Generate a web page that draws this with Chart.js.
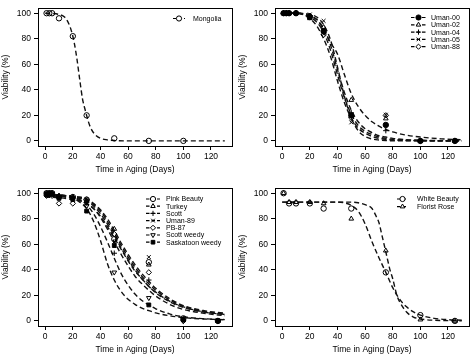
<!DOCTYPE html>
<html>
<head>
<meta charset="utf-8">
<script src="https://cdn.jsdelivr.net/npm/chart.js@4.4.1/dist/chart.umd.min.js"></script>
<style>
  html, body { margin: 0; padding: 0; background: #fff; }
  #wrap { position: relative; width: 474px; height: 358px; overflow: hidden; background: #fff; }
  .panel { position: absolute; width: 237px; height: 179px; }
</style>
</head>
<body>
<div id="wrap">
  <div class="panel" style="left:0;top:0"><canvas id="c1" width="237" height="179"></canvas></div>
  <div class="panel" style="left:237px;top:0"><canvas id="c2" width="237" height="179"></canvas></div>
  <div class="panel" style="left:0;top:180px"><canvas id="c3" width="237" height="179"></canvas></div>
  <div class="panel" style="left:237px;top:180px"><canvas id="c4" width="237" height="179"></canvas></div>
</div>
<script>
// axis ticks (all panels)
const xTicks = [0, 20, 40, 60, 80, 100, 120];
const yTicks = [0, 20, 40, 60, 80, 100];

// ---- panel 1 : Mongolia ----
const mongDays = [1, 3, 5, 10, 20, 30, 50, 75, 100];
const mongolia = [100, 100, 100, 96, 82, 20, 2, 0, 0];
const mongFitDays = [0, 5, 10, 14, 17, 19, 21, 23, 25, 27, 29, 31, 33, 36, 40, 45, 50, 60, 130];
const mongoliaFit = [100, 99.8, 99, 97, 92, 86, 77, 64, 48, 33, 24, 16, 10, 5, 2, 0.8, 0.3, 0, 0];

// ---- panel 2 : Uman lines ----
const umanDays = [1, 3, 5, 10, 20, 30, 50, 75, 100, 125];
const uman00 = [100, 100, 100, 100, 97, 86, 20, 12.5, 0, 0];
const uman02 = [100, 100, 100, 100, 96, 89, 32, 17.5, 0, 0];
const uman04 = [100, 100, 100, 100, 98, 85, 22, 8, 0, 0];
const uman05 = [100, 100, 100, 100, 99, 94, 14.5, 20.5, 0, 0];
const uman88 = [100, 100, 100, 100, 98, 83, 18, 20, 0, 0];
const umanFitDays = [0, 10, 20, 25, 30, 35, 40, 45, 50, 55, 60, 65, 70, 75, 80, 90, 100, 115, 130];
const uman00Fit = [100, 100, 97, 93, 85, 71, 52, 34, 21, 12, 7.5, 5, 3, 2, 1.3, 0.6, 0.3, 0.1, 0];
const uman02Fit = [100, 100, 98, 95, 87, 77, 68, 52, 37, 27, 20, 15, 11.5, 9, 7, 4.5, 3, 1.6, 0.9];
const uman04Fit = [100, 100, 98, 95, 88, 75, 56, 38, 24, 15, 9.5, 6.5, 4, 3, 2, 1, 0.5, 0.2, 0.1];
const uman05Fit = [100, 100, 99, 97, 91, 79, 58, 35, 18, 8, 3.5, 1.5, 0.7, 0.3, 0.1, 0, 0, 0, 0];
const uman88Fit = [100, 100, 96, 90, 80, 66, 47, 30, 18, 10, 6, 3.5, 2, 1.2, 0.7, 0.3, 0.1, 0, 0];

// ---- panel 3 : seven accessions ----
const accDays = [1, 3, 5, 10, 20, 30, 50, 75, 100, 125];
const pinkBeauty = [100, 100, 100, 97, 97, 95, 64, 46, 2, 0];
const turkey = [100, 100, 100, 98, 97, 94, 72, 44, 1, 0];
const scott = [99, 99, 100, 98, 97, 93, 53, 32, 1, 0];
const uman89 = [99, 100, 99, 97, 96, 92, 62, 50, 1, 0];
const pb87 = [98, 99, 98, 92, 92, 95, 68, 38, 0, 0];
const scottWeedy = [100, 99, 100, 97, 96, 90, 38, 18, 0, 0];
const saskWeedy = [99, 100, 99, 96, 95, 86, 59, 12.5, 1, 0];
const accFitDays = [0, 10, 20, 25, 30, 35, 40, 45, 50, 55, 60, 65, 70, 75, 80, 90, 100, 115, 130];
const pinkBeautyFit = [99, 98.5, 97.5, 96.5, 95, 91, 86, 78, 69, 59, 50, 42, 35, 29, 24, 16.5, 11.5, 7.5, 5.5];
const turkeyFit = [99, 98.5, 97.5, 97, 95.5, 92, 87, 80, 71, 61, 52, 44, 37, 31, 25.5, 17.5, 12, 8, 6];
const scottFit = [98, 97.5, 96, 94.5, 92, 88, 81, 72, 62, 52, 43, 35, 29, 24, 19.5, 13, 9, 6, 4];
const uman89Fit = [99, 98.5, 97, 96, 94, 90, 84, 76, 67, 57, 48, 40, 33, 27, 22, 15, 10.5, 7, 5];
const pb87Fit = [97, 96.5, 95, 94, 92, 88, 82, 74, 65, 56, 47, 39, 33, 27, 22.5, 15.5, 11, 7, 5];
const scottWeedyFit = [99, 98, 96, 93, 88, 78, 63, 45, 32, 23, 17, 13, 10, 8, 6.3, 4, 2.6, 1.5, 0.9];
const saskWeedyFit = [99, 98.5, 97, 95, 91, 84, 74, 62, 49, 37, 28, 21, 16, 12.5, 9.5, 5.5, 3.2, 1.7, 1];

// ---- panel 4 : White Beauty / Florist Rose ----
const wbDays = [1, 5, 10, 20, 30, 50, 75, 100, 125];
const whiteBeauty = [100, 92, 92, 92, 88, 88, 38, 4.5, 0];
const floristRose = [100, 93, 93, 93, 92, 80, 55, 1, 0];
const wbFitDays = [0, 10, 20, 30, 40, 45, 50, 55, 60, 65, 70, 75, 80, 85, 90, 95, 100, 110, 120, 130];
const whiteBeautyFit = [93, 93, 93, 93, 93, 92.5, 90.5, 86, 76, 62, 49.5, 38, 26, 17, 11, 7, 4.5, 2, 1, 0.5];
const frFitDays = [0, 10, 20, 30, 40, 50, 55, 60, 65, 68, 70, 72, 75, 78, 80, 83, 85, 90, 95, 100, 110, 120, 130];
const floristRoseFit = [93, 93, 93, 93, 93, 93, 92.5, 91, 88, 82, 77, 68, 54, 40, 33, 20, 15, 7, 3, 1.5, 0.5, 0.2, 0];

const INK = '#000';
const FONT = '"Liberation Sans", Arial, sans-serif';

function pairs(xs, ys) {
  return xs.map((x, i) => ({ x: x, y: ys[i] }));
}

// R style frame round the plot region
const framePlugin = {
  id: 'frame',
  afterDraw(chart) {
    const a = chart.chartArea, ctx = chart.ctx;
    ctx.save();
    ctx.strokeStyle = INK;
    ctx.lineWidth = 1;
    ctx.strokeRect(Math.round(a.left) + 0.5, Math.round(a.top) + 0.5,
      Math.round(a.right - a.left), Math.round(a.bottom - a.top));
    ctx.restore();
  }
};

// legend drawn inside the plot, dashed segment with the symbol in the middle
const rLegendPlugin = {
  id: 'rLegend',
  afterDraw(chart, args, opts) {
    if (!opts || !opts.items) return;
    const ctx = chart.ctx;
    ctx.save();
    opts.items.forEach((it, i) => {
      const y = opts.y0 + i * opts.dy;
      ctx.strokeStyle = INK;
      ctx.lineWidth = 1.2;
      ctx.setLineDash([3.5, 2]);
      ctx.beginPath();
      ctx.moveTo(opts.x0, y);
      ctx.lineTo(opts.x1, y);
      ctx.stroke();
      ctx.setLineDash([]);
      ctx.lineWidth = 1;
      ctx.fillStyle = it.filled ? INK : '#fff';
      Chart.helpers.drawPoint(ctx, {
        pointStyle: it.style, rotation: it.rotation || 0, radius: 2.6, borderWidth: 1
      }, (opts.x0 + opts.x1) / 2, y);
      ctx.fillStyle = INK;
      ctx.font = '7px ' + FONT;
      ctx.textBaseline = 'middle';
      ctx.textAlign = 'left';
      ctx.fillText(it.label, opts.tx, y + 0.5);
    });
    ctx.restore();
  }
};

function makePanel(id, series, legend) {
  const datasets = [];
  series.forEach(s => {
    datasets.push({
      label: s.label + ' fit',
      data: pairs(s.fitDays, s.fit),
      showLine: true,
      borderColor: '#111',
      borderWidth: 1.4,
      borderDash: [5, 3],
      pointRadius: 0,
      cubicInterpolationMode: 'monotone',
      fill: false,
      order: 2
    });
    datasets.push({
      label: s.label,
      data: pairs(s.days, s.values),
      showLine: false,
      pointStyle: s.style,
      rotation: s.rotation || 0,
      pointRadius: 2.7,
      borderWidth: 1,
      pointBorderColor: INK,
      pointBackgroundColor: s.filled ? INK : 'rgba(255,255,255,0)',
      order: 1
    });
  });
  legend.items = series.map(s => ({ label: s.label, style: s.style, rotation: s.rotation, filled: s.filled }));

  const tickFont = { family: FONT, size: 8.5 };
  new Chart(document.getElementById(id), {
    type: 'scatter',
    data: { datasets: datasets },
    plugins: [framePlugin, rLegendPlugin],
    options: {
      responsive: false,
      animation: false,
      devicePixelRatio: 1,
      layout: { padding: { top: 5, right: 5, left: 0, bottom: 0 } },
      plugins: {
        legend: { display: false },
        tooltip: { enabled: false },
        rLegend: legend
      },
      scales: {
        x: {
          type: 'linear',
          min: -5.2,
          max: 135.2,
          afterBuildTicks: sc => { sc.ticks = xTicks.map(v => ({ value: v })); },
          afterFit: sc => { sc.height = 33; },
          grid: { drawOnChartArea: false, drawTicks: true, tickLength: 4, color: INK },
          border: { display: true, color: INK },
          ticks: { font: tickFont, color: INK, padding: 2, maxRotation: 0, autoSkip: false },
          title: { display: true, text: 'Time in Aging (Days)', color: INK,
                   font: { family: FONT, size: 8.5 }, padding: { top: 0, bottom: 4 } }
        },
        y: {
          type: 'linear',
          min: -4,
          max: 104,
          afterBuildTicks: sc => { sc.ticks = yTicks.map(v => ({ value: v })); },
          afterFit: sc => { sc.width = 38; },
          grid: { drawOnChartArea: false, drawTicks: true, tickLength: 4, color: INK },
          border: { display: true, color: INK },
          ticks: { font: tickFont, color: INK, padding: 3, autoSkip: false },
          title: { display: true, text: 'Viability (%)', color: INK,
                   font: { family: FONT, size: 8.5 }, padding: { top: 1, bottom: 0 } }
        }
      }
    }
  });
}

makePanel('c1', [
  { label: 'Mongolia', days: mongDays, values: mongolia, fitDays: mongFitDays, fit: mongoliaFit, style: 'circle' }
], { x0: 173, x1: 185, tx: 193, y0: 18.5, dy: 7.3 });

makePanel('c2', [
  { label: 'Uman-00', days: umanDays, values: uman00, fitDays: umanFitDays, fit: uman00Fit, style: 'circle', filled: true },
  { label: 'Uman-02', days: umanDays, values: uman02, fitDays: umanFitDays, fit: uman02Fit, style: 'triangle' },
  { label: 'Uman-04', days: umanDays, values: uman04, fitDays: umanFitDays, fit: uman04Fit, style: 'cross' },
  { label: 'Uman-05', days: umanDays, values: uman05, fitDays: umanFitDays, fit: uman05Fit, style: 'crossRot' },
  { label: 'Uman-88', days: umanDays, values: uman88, fitDays: umanFitDays, fit: uman88Fit, style: 'rectRot' }
], { x0: 174, x1: 189, tx: 194, y0: 17.5, dy: 7.3 });

makePanel('c3', [
  { label: 'Pink Beauty', days: accDays, values: pinkBeauty, fitDays: accFitDays, fit: pinkBeautyFit, style: 'circle' },
  { label: 'Turkey', days: accDays, values: turkey, fitDays: accFitDays, fit: turkeyFit, style: 'triangle' },
  { label: 'Scott', days: accDays, values: scott, fitDays: accFitDays, fit: scottFit, style: 'cross' },
  { label: 'Uman-89', days: accDays, values: uman89, fitDays: accFitDays, fit: uman89Fit, style: 'crossRot' },
  { label: 'PB-87', days: accDays, values: pb87, fitDays: accFitDays, fit: pb87Fit, style: 'rectRot' },
  { label: 'Scott weedy', days: accDays, values: scottWeedy, fitDays: accFitDays, fit: scottWeedyFit, style: 'triangle', rotation: 180 },
  { label: 'Saskatoon weedy', days: accDays, values: saskWeedy, fitDays: accFitDays, fit: saskWeedyFit, style: 'rect', filled: true }
], { x0: 146, x1: 160, tx: 166, y0: 19, dy: 7.2 });

makePanel('c4', [
  { label: 'White Beauty', days: wbDays, values: whiteBeauty, fitDays: wbFitDays, fit: whiteBeautyFit, style: 'circle' },
  { label: 'Florist Rose', days: wbDays, values: floristRose, fitDays: frFitDays, fit: floristRoseFit, style: 'triangle' }
], { x0: 160, x1: 171, tx: 180, y0: 19, dy: 7.6 });
</script>
</body>
</html>
